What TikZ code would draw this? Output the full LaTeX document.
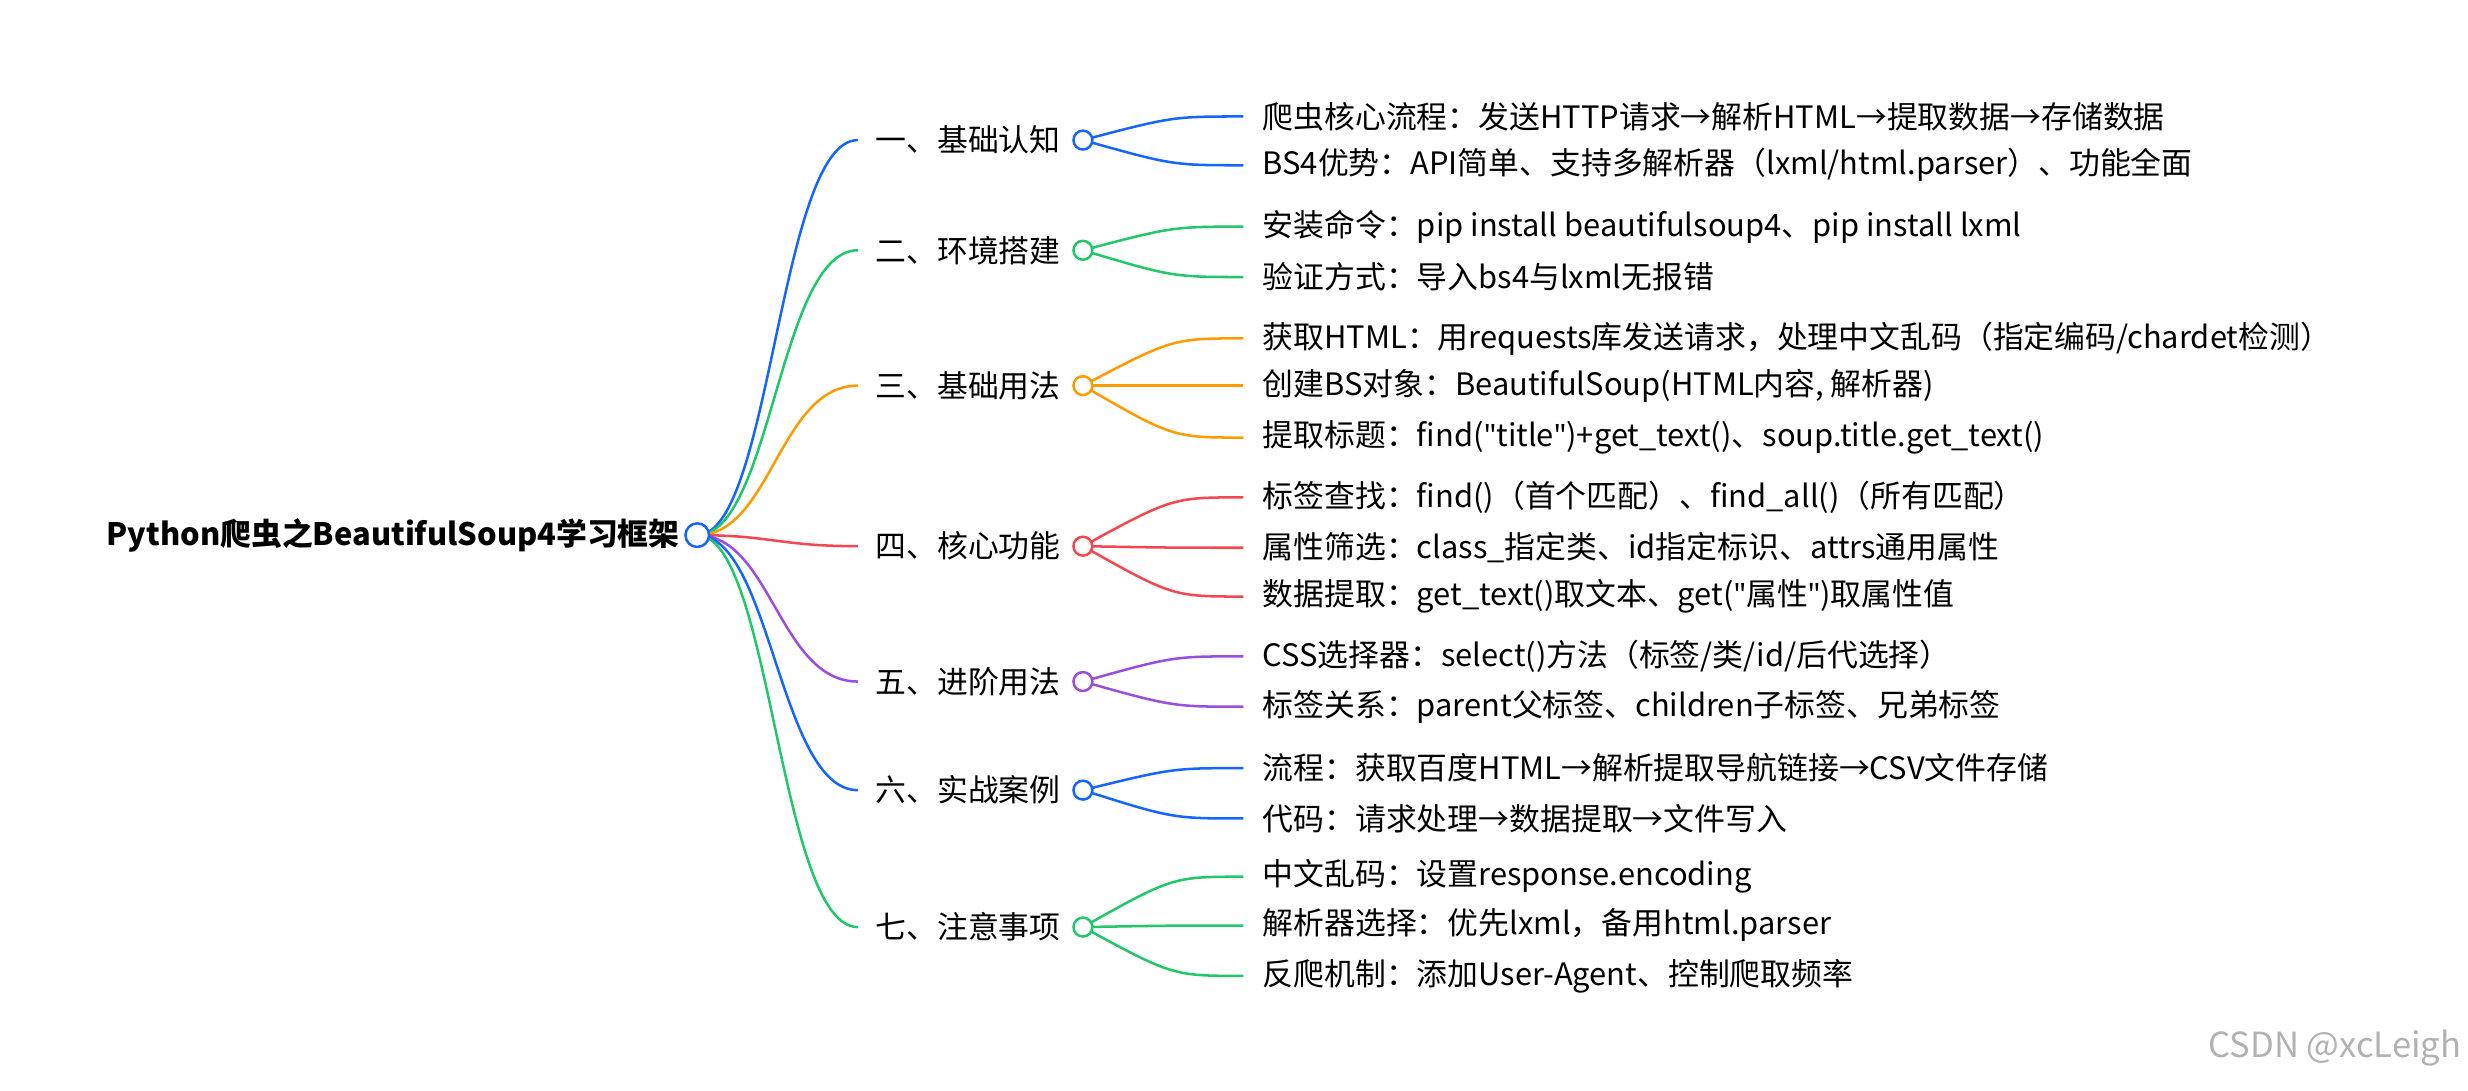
\documentclass[tikz,border=0pt]{standalone}
\usepackage{fontspec}
\setmainfont{Noto Sans CJK SC}
\newfontfamily\latq{Noto Sans}
\newcommand{\dq}{{\latq\symbol{34}}}
\begin{document}
\begin{tikzpicture}[x=1pt,y=-1pt,
  lbl/.style={anchor=west,inner sep=0pt,font=\fontsize{19.6}{22}\selectfont},
  dot/.style={circle,draw,line width=1.6pt,fill=white,minimum size=12pt,inner sep=0pt},
  ln/.style={line width=1.6pt}]
\definecolor{cb}{HTML}{1665FF}\definecolor{cg}{HTML}{22C76A}\definecolor{co}{HTML}{FF9A00}
\definecolor{cr}{HTML}{F5474F}\definecolor{cp}{HTML}{9A4EE0}
\useasboundingbox (0,0) rectangle (1568,693);
\node[anchor=east,inner sep=0pt,font=\fontsize{19.6}{22}\selectfont\bfseries] (root) at (432,340) {Python爬虫之BeautifulSoup4学习框架};
\coordinate (rc) at (443,340);
\foreach \i/\y/\c/\t in {1/89/cb/一、基础认知,2/159/cg/二、环境搭建,3/245/co/三、基础用法,4/347/cr/四、核心功能,5/433/cp/五、进阶用法,6/502/cb/六、实战案例,7/589/cg/七、注意事项}{
  \coordinate (e\i) at (545,\y);
  \node[lbl] (b\i) at (556,\y) {\t};
  \coordinate (k\i) at (688,\y);
  \draw[ln,\c] (rc) .. controls (490,340) and (495,\y) .. (e\i);
}
\foreach \i/\p/\y/\c/\t in {
 a/1/74/cb/{爬虫核心流程：发送HTTP请求→解析HTML→提取数据→存储数据},
 b/1/105/cb/{BS4优势：API简单、支持多解析器（lxml/html.parser）、功能全面},
 c/2/144/cg/{安装命令：pip install beautifulsoup4、pip install lxml},
 d/2/176/cg/{验证方式：导入bs4与lxml无报错},
 e/3/215/co/{获取HTML：用requests库发送请求，处理中文乱码（指定编码/chardet检测）},
 f/3/245/co/{创建BS对象：BeautifulSoup(HTML内容, 解析器)},
 g/3/278/co/{提取标题：find(\dq title\dq)+get\_text()、soup.title.get\_text()},
 h/4/316/cr/{标签查找：find()（首个匹配）、find\_all()（所有匹配）},
 i/4/348/cr/{属性筛选：class\_指定类、id指定标识、attrs通用属性},
 j/4/379/cr/{数据提取：get\_text()取文本、get(\dq 属性\dq)取属性值},
 k/5/417/cp/{CSS选择器：select()方法（标签/类/id/后代选择）},
 l/5/449/cp/{标签关系：parent父标签、children子标签、兄弟标签},
 m/6/488/cb/{流程：获取百度HTML→解析提取导航链接→CSV文件存储},
 n/6/520/cb/{代码：请求处理→数据提取→文件写入},
 o/7/557/cg/{中文乱码：设置response.encoding},
 p/7/588/cg/{解析器选择：优先lxml，备用html.parser},
 q/7/620/cg/{反爬机制：添加User-Agent、控制爬取频率}}{
  \coordinate (f\i) at (790,\y);
  \node[lbl] (t\i) at (802,\y) {\t};
  \draw[ln,\c] (k\p) .. controls (745,\y) .. (f\i);
}
\foreach \i/\c in {1/cb,2/cg,3/co,4/cr,5/cp,6/cb,7/cg} \node[dot,draw=\c] at (k\i) {};
\node[dot,draw=cb,minimum size=15pt] (rd) at (rc) {};
\node[anchor=east,inner sep=0pt,text=black!30,font=\fontsize{22}{24}\selectfont] (wm) at (1564,666) {CSDN @xcLeigh};
\end{tikzpicture}
\end{document}
